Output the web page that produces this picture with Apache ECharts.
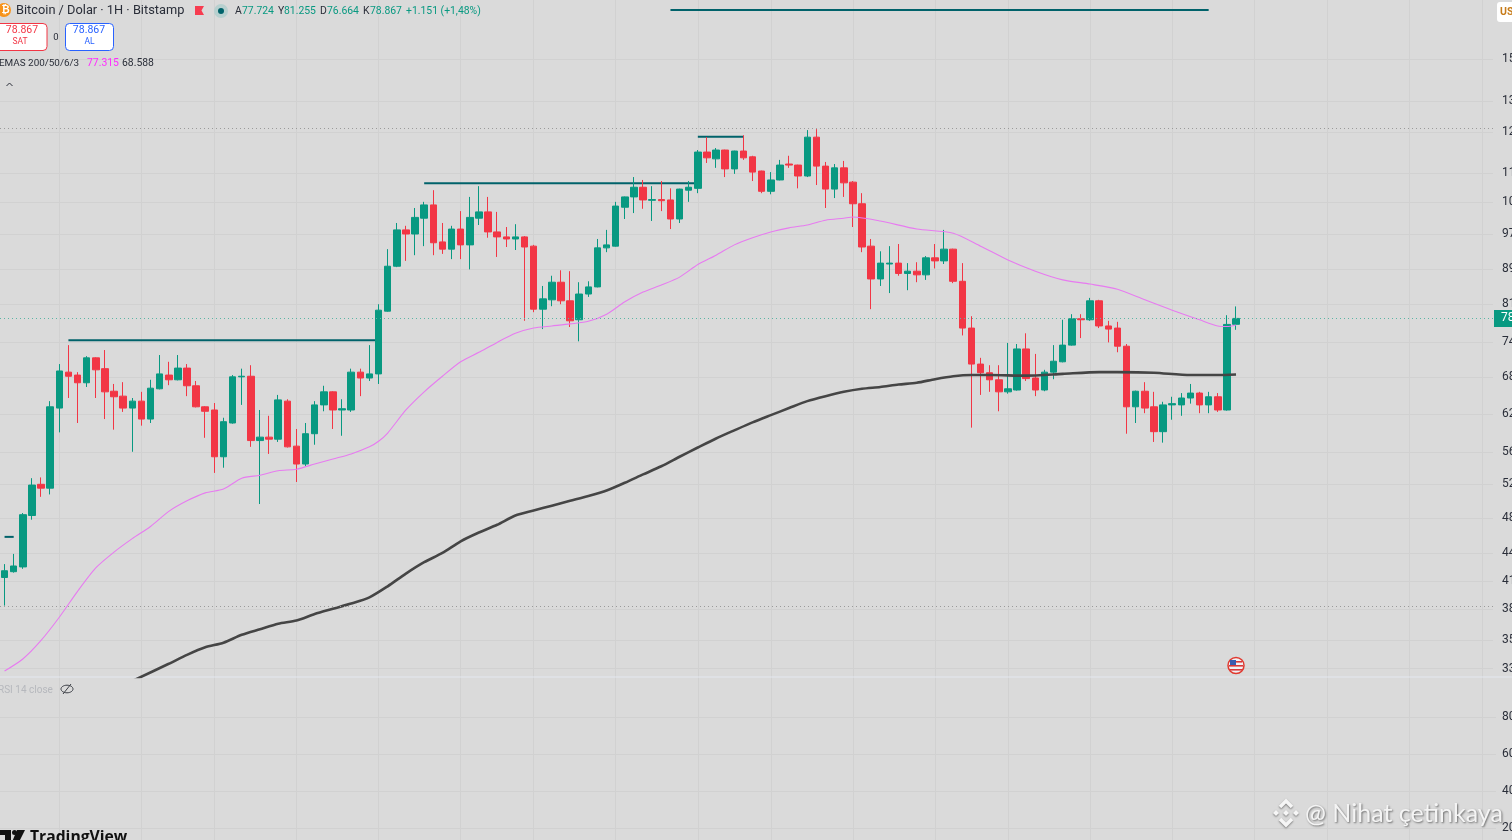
<!DOCTYPE html>
<html><head><meta charset="utf-8">
<style>html,body{margin:0;padding:0;background:#dadada;overflow:hidden}#c{width:1512px;height:840px}</style>
<script src="https://cdn.jsdelivr.net/npm/echarts@6/dist/echarts.min.js"></script>
</head><body><div id="c"></div>
<script>
const opens = [41.4,42.0,42.5,48.3,52.2,51.7,63.1,69.0,68.5,67.2,
71.5,69.6,65.8,65.0,63.1,64.2,61.4,66.2,68.5,67.7,
69.7,66.7,63.3,62.8,55.9,60.8,68.2,68.3,58.2,58.7,
58.4,64.2,57.4,54.9,59.2,63.6,65.7,62.8,62.8,69.0,
68.0,68.7,80.3,89.8,98.3,97.3,101.2,104.6,95.4,93.7,
98.5,94.7,101.2,102.8,97.8,96.6,96.1,96.6,94.4,80.7,
82.6,86.3,82.4,78.6,83.8,85.3,94.0,94.4,104.0,106.7,
109.3,105.8,106.0,105.9,101.0,108.5,109.0,119.3,117.3,119.9,
114.4,119.6,117.9,113.8,108.2,111.3,115.8,115.5,112.4,123.8,
115.2,108.8,114.7,110.7,104.9,94.4,87.0,90.3,90.5,88.2,
88.7,87.9,91.7,91.0,93.7,86.5,77.0,70.4,68.9,67.7,
65.7,66.0,73.1,68.0,66.0,69.0,70.8,73.8,78.8,78.6,
82.4,77.4,77.0,73.6,63.3,65.8,63.3,59.5,63.6,63.6,
64.7,65.5,63.6,64.9,62.8,77.724];
const closes = [42.1,42.6,48.4,52.1,51.7,63.3,69.2,68.3,67.2,71.5,
69.4,65.7,64.9,63.1,64.2,61.4,66.3,68.7,67.7,69.7,
66.7,63.3,62.6,55.9,61.0,68.2,68.3,58.2,58.7,58.4,
64.4,57.3,54.9,59.2,63.6,65.7,62.8,63.0,69.0,68.0,
68.7,80.5,89.8,98.3,97.3,101.4,104.6,95.2,93.7,98.5,
94.7,101.4,102.8,97.8,96.6,96.1,96.6,94.2,80.7,82.8,
86.3,82.4,78.4,83.8,85.3,94.0,94.7,104.3,106.7,109.3,
105.9,106.0,105.7,101.0,108.8,109.3,119.3,117.6,119.9,114.4,
119.6,117.6,113.5,108.2,111.3,115.5,115.5,112.4,123.8,115.2,
108.8,114.7,110.5,104.9,94.2,87.0,90.5,90.5,88.2,88.7,
87.9,91.7,91.0,93.7,86.5,77.0,70.4,68.9,67.7,65.7,
66.2,73.1,67.9,66.0,69.0,70.9,73.8,78.8,78.6,82.4,
77.4,76.8,73.6,63.3,65.8,63.1,59.5,63.6,63.8,64.7,
65.5,63.6,64.9,62.8,77.7,78.867];
const lows = [38.6,41.9,42.3,47.8,50.6,50.9,59.4,64.7,60.8,66.5,
64.7,61.4,59.8,62.5,56.6,60.4,60.8,66.1,66.8,67.6,
65.0,63.2,58.6,53.7,54.4,60.7,63.6,57.3,49.7,56.3,
58.0,57.2,52.5,54.6,57.6,62.6,59.9,58.9,62.5,65.0,
67.5,67.0,80.2,89.6,91.0,92.3,94.4,92.3,92.6,91.4,
91.4,89.1,99.5,96.4,91.9,94.2,93.5,78.4,80.1,76.8,
81.3,81.7,77.2,74.5,83.2,85.2,93.0,94.3,101.0,102.5,
103.6,100.5,103.0,98.5,100.0,105.4,107.7,116.1,114.7,112.1,
113.0,117.0,111.0,107.7,107.4,111.2,114.7,109.0,112.1,109.9,
103.8,106.4,106.7,99.0,93.0,80.7,85.5,84.0,87.7,84.6,
86.3,86.8,89.3,90.3,86.1,75.6,60.1,65.2,65.7,62.6,
65.4,65.9,67.5,65.0,65.8,67.8,70.7,73.7,75.1,78.4,
77.0,74.3,72.5,59.2,60.8,62.3,58.0,57.9,61.3,61.9,
63.8,62.3,62.3,62.5,62.7,76.664];
const highs = [42.8,43.9,48.6,53.0,53.1,64.2,70.4,73.8,69.0,71.8,
71.6,72.9,67.0,67.3,64.7,65.7,67.7,72.0,70.8,72.0,
70.4,67.5,63.4,63.9,61.6,68.5,69.6,70.2,62.8,61.9,
65.2,64.5,59.9,60.8,64.2,66.7,65.8,64.5,69.6,69.6,
73.8,81.7,93.7,100.0,99.3,103.8,105.4,108.5,100.0,99.3,
103.0,106.7,109.6,106.7,102.8,99.0,99.7,96.8,94.7,85.5,
87.7,88.9,88.7,86.3,86.5,96.1,98.3,105.4,106.8,112.1,
111.3,109.6,111.0,109.0,108.9,111.0,119.9,123.8,120.5,120.0,
119.7,124.4,118.2,113.9,113.5,117.0,118.2,115.6,126.0,126.3,
116.4,115.8,116.7,111.0,107.7,96.1,93.2,94.4,94.9,90.5,
90.7,92.1,94.9,98.3,93.8,90.5,79.3,71.5,70.2,70.2,
74.2,74.0,76.0,72.2,69.4,73.8,78.6,79.7,79.7,83.0,
82.6,78.4,78.2,74.0,65.9,67.3,65.7,64.1,64.9,65.5,
67.0,65.7,65.7,65.5,79.5,81.255];
const ema50 = [[0,32.8],[2,33.8],[4,35.4],[6,37.5],[8,40.0],[10,42.4],[12,44.1],[14,45.6],[16,47.0],[18,48.8],[20,50.1],[22,51.1],[24,51.6],[26,53.0],[28,53.4],[30,54.0],[32,54.2],[34,54.9],[36,55.6],[38,56.3],[40,57.3],[41,58.1],[42,59.3],[44,62.8],[46,65.7],[48,68.3],[50,70.8],[52,72.5],[54,74.3],[56,76.0],[58,77.0],[60,77.4],[62,77.8],[64,78.3],[66,79.7],[68,82.2],[70,84.2],[72,85.7],[74,87.4],[76,90.2],[78,92.3],[80,94.7],[82,96.4],[84,97.8],[86,98.8],[88,99.5],[90,100.7],[92,101.2],[93,101.5],[96,100.5],[100,98.5],[104,97.5],[107,94.4],[110,91.2],[113,88.7],[116,86.8],[119,85.9],[122,84.8],[125,82.6],[128,80.5],[131,78.6],[133,77.4],[134,77.3],[135,77.6]];
const ema200 = [[14,32.0],[18,33.4],[20,34.15],[22,34.8],[24,35.2],[26,35.9],[28,36.4],[30,36.9],[32,37.2],[34,37.8],[36,38.3],[38,38.8],[40,39.4],[42,40.5],[44,41.8],[46,43.0],[48,44.0],[50,45.3],[52,46.3],[54,47.2],[56,48.3],[58,48.9],[60,49.5],[62,50.1],[64,50.7],[66,51.4],[68,52.4],[70,53.5],[72,54.6],[74,55.9],[76,57.2],[78,58.5],[80,59.7],[82,60.9],[84,62.0],[86,63.1],[88,64.2],[90,65.0],[92,65.7],[94,66.2],[96,66.5],[98,66.9],[100,67.2],[102,67.8],[104,68.3],[106,68.5],[108,68.5],[112,68.4],[116,68.7],[120,69.0],[122,69.0],[126,68.9],[130,68.5],[133,68.5],[135,68.588]];
const levelLines = [
  [[73,169.9],[132,169.9]],
  [[7,74.7],[41,74.7]],
  [[46,110.4],[76,110.4]],
  [[76,123.9],[81,123.9]],
  [[0,45.8],[1,45.8]]
];
const dottedLevels = [126.6, 38.5];
const lastPrice = 78.867;
const priceTicks = [33,35.4,38.3,41,44,48,52.2,56.5,62.2,68.2,74.3,81.7,89.2,97.3,105.3,113.3,125.4,135.4,150.4];
const priceTickLabels = ['33','35','38','41','44','48','52','56','62','68','74','81','89','97','10','11','12','13','15'];
const rsiTicks = [20,40,60,80];
const gridCandles = [6,15,23,32,41,50,58,67,76,84,93,102,110,119,128,137,145,154,162];
const slotCount = 164;
const categories = Array.from({length: slotCount}, (_, i) => String(i));
const candleData = opens.map((o, i) => [o, closes[i], lows[i], highs[i]]);

const FONT = 'Roboto, sans-serif';
const UP = '#089981', DOWN = '#F23645', GRID = '#d1d1d1', LEVEL = '#00626a';
const txt = (x, y, text, size, fill, extra) => ({type:'text', x, y, z:20, silent:true,
  style:Object.assign({text, font:`${size}px ${FONT}`, fill, textVerticalAlign:'middle'}, extra||{})});
const shadow = {shadowColor:'#777',shadowBlur:2,shadowOffsetY:1};
const graphic = [
  {type:'rect', z:3, silent:true, shape:{x:1493,y:0,width:19,height:840}, style:{fill:'#dadada'}},
  {type:'rect', z:3, silent:true, shape:{x:0,y:676.5,width:1512,height:1}, style:{fill:'#e3e7ef'}},
  // header
  {type:'circle', z:20, shape:{cx:4,cy:10,r:7}, style:{fill:'#f7931a'}},
  txt(1.5,10.5,'₿',10,'#fff',{font:`bold 10px ${FONT}`}),
  txt(16,10.5,'Bitcoin / Dolar · 1H · Bitstamp',12.8,'#2a2e39'),
  {type:'polygon', z:20, shape:{points:[[195,6],[204,6],[201.5,10.5],[204,15],[195,15]]}, style:{fill:'#f73c50'}},
  {type:'circle', z:20, shape:{cx:221,cy:11,r:7}, style:{fill:'#b7d0cf'}},
  {type:'circle', z:20, shape:{cx:221,cy:11,r:3}, style:{fill:'#00626a'}},
  txt(235,11.5,'A',10.4,'#2a2e39'), txt(242,11.5,'77.724',10.4,UP),
  txt(278,11.5,'Y',10.4,'#2a2e39'), txt(284,11.5,'81.255',10.4,UP),
  txt(320,11.5,'D',10.4,'#2a2e39'), txt(327,11.5,'76.664',10.4,UP),
  txt(363,11.5,'K',10.4,'#2a2e39'), txt(370,11.5,'78.867',10.4,UP),
  txt(406,11.5,'+1.151 (+1,48%)',10.4,UP),
  {type:'rect', z:20, shape:{x:-4,y:23.5,width:51,height:27,r:4}, style:{fill:'#fff',stroke:'#f23645',lineWidth:1}},
  txt(22,30.5,'78.867',10.5,'#f23645',{textAlign:'center'}),
  txt(20,42,'SAT',8.5,'#f23645',{textAlign:'center'}),
  txt(56,37.5,'0',9.5,'#2a2e39',{textAlign:'center'}),
  {type:'rect', z:20, shape:{x:65.5,y:23.5,width:48,height:27,r:4}, style:{fill:'#fff',stroke:'#2962ff',lineWidth:1}},
  txt(89,30.5,'78.867',10.5,'#2962ff',{textAlign:'center'}),
  txt(89.5,42,'AL',8.5,'#2962ff',{textAlign:'center'}),
  txt(-1,63.5,'EMAS 200/50/6/3',9.9,'#2a2e39'),
  txt(87,63.5,'77.315',10.4,'#ff2bff'),
  txt(122,63.5,'68.588',10.4,'#2a2e39'),
  {type:'polyline', z:20, shape:{points:[[6.5,86],[9.5,83],[12.5,86]]}, style:{stroke:'#2a2e39',lineWidth:1,fill:'none'}},
  txt(-2,690.5,'RSI 14 close',10,'#b6b8bd'),
  {type:'ellipse', z:20, shape:{cx:67,cy:689,rx:6,ry:3.8}, style:{fill:'none',stroke:'#3c3f46',lineWidth:1}},
  {type:'line', z:20, shape:{x1:63,y1:694,x2:71,y2:684}, style:{stroke:'#3c3f46',lineWidth:1}},
  // currency pill
  {type:'rect', z:20, shape:{x:1497,y:2,width:22,height:20,r:3}, style:{fill:'#ffffff'}},
  txt(1500,12,'USD',10.5,'#c77c1a',{font:`bold 10.5px ${FONT}`}),
  // earnings badge
  {type:'circle', z:20, shape:{cx:1236,cy:665.5,r:8}, style:{fill:'#f0f0f4',stroke:'#e0392f',lineWidth:1.5}},
  {type:'rect', z:21, shape:{x:1230,y:661,width:12,height:1.6}, style:{fill:'#d9383a'}},
  {type:'rect', z:21, shape:{x:1229,y:665,width:14,height:1.6}, style:{fill:'#d9383a'}},
  {type:'rect', z:21, shape:{x:1230,y:669,width:12,height:1.6}, style:{fill:'#d9383a'}},
  {type:'rect', z:21, shape:{x:1230,y:660,width:6,height:5}, style:{fill:'#3a5bb0'}},
  // watermark
  {type:'polygon', z:20, shape:{points:[[1286,810],[1289,813],[1286,816],[1283,813]]}, style:Object.assign({fill:'#f6f6f6'},shadow)},
  {type:'polygon', z:20, shape:{points:[[1276,810],[1279,813],[1276,816],[1273,813]]}, style:Object.assign({fill:'#f6f6f6'},shadow)},
  {type:'polygon', z:20, shape:{points:[[1296,810],[1299,813],[1296,816],[1293,813]]}, style:Object.assign({fill:'#f6f6f6'},shadow)},
  {type:'polyline', z:20, shape:{points:[[1280,807],[1286,801],[1292,807]]}, style:Object.assign({stroke:'#f6f6f6',lineWidth:3.5,fill:'none'},shadow)},
  {type:'polyline', z:20, shape:{points:[[1280,819],[1286,825],[1292,819]]}, style:Object.assign({stroke:'#f6f6f6',lineWidth:3.5,fill:'none'},shadow)},
  txt(1305,814,'@ Nihat çetinkaya',25,'#f4f4f4',{font:'25px Lato, sans-serif',textShadowColor:'#6f6f6f',textShadowBlur:2,textShadowOffsetY:1,textShadowOffsetX:1}),
  // TradingView logo
  {type:'polygon', z:20, shape:{points:[[0,830],[11,830],[11,842],[5,842],[5,835],[0,835]]}, style:{fill:'#111'}},
  {type:'circle', z:20, shape:{cx:14.5,cy:832.5,r:2.5}, style:{fill:'#111'}},
  {type:'polygon', z:20, shape:{points:[[17,830],[25,830],[19,842],[12,842]]}, style:{fill:'#111'}},
  txt(30,838,'TradingView',15.7,'#111',{font:'bold 15.7px "Open Sans", sans-serif'})
];

const chart = echarts.init(document.getElementById('c'), null, {renderer:'canvas'});
const nearestLabel = v => {
  let best = 0;
  priceTicks.forEach((t, i) => { if (Math.abs(t - v) < Math.abs(priceTicks[best] - v)) best = i; });
  return priceTickLabels[best];
};
const xAxisBase = gridIndex => ({
  type:'category', gridIndex, data:categories, boundaryGap:true,
  axisLine:{show:false}, axisTick:{show:false}, axisLabel:{show:false},
  splitLine:{show:true, alignWithLabel:true, interval:(i)=>gridCandles.includes(i), lineStyle:{color:GRID,width:1}}
});
chart.setOption({
  animation:false,
  backgroundColor:'#dadada',
  graphic,
  grid:[
    {left:0, right:16, top:0, height:677, outerBoundsMode:'none'},
    {left:0, right:16, top:677, height:163, outerBoundsMode:'none'}
  ],
  xAxis:[xAxisBase(0), xAxisBase(1)],
  yAxis:[
    {type:'log', gridIndex:0, logBase:10, min:32.32, max:174.15, position:'right', z:0,
     axisLine:{show:false}, axisLabel:{show:false},
     axisTick:{show:false, customValues:priceTicks},
     splitLine:{show:true, lineStyle:{color:GRID,width:1}}, minorSplitLine:{show:false}},
    {type:'log', gridIndex:0, logBase:10, min:32.32, max:174.15, position:'right', z:5,
     axisLine:{show:false}, axisTick:{show:false}, splitLine:{show:false},
     axisLabel:{show:true, customValues:priceTicks, formatter:nearestLabel, margin:6, color:'#2a2e39',
       fontFamily:FONT, fontSize:12, align:'left', hideOverlap:false}},
    {type:'value', gridIndex:1, min:13.5, max:101.6, position:'right', z:5,
     axisLine:{show:false},
     axisTick:{show:false, customValues:rsiTicks},
     splitLine:{show:true, lineStyle:{color:GRID,width:1}},
     axisLabel:{show:true, customValues:rsiTicks, margin:6, color:'#2a2e39', fontFamily:FONT, fontSize:12, align:'left'}}
  ],
  series:[
    {type:'line', name:'EMA 200', xAxisIndex:0, yAxisIndex:0, data:ema200, showSymbol:false, z:3, smooth:0.25,
     lineStyle:{color:'#454545',width:2.6}, silent:true},
    {type:'line', name:'EMA 50', xAxisIndex:0, yAxisIndex:0, data:ema50, showSymbol:false, z:3, smooth:0.25,
     lineStyle:{color:'#e77bf0',width:1.1}, silent:true},
    ...levelLines.map(d => ({type:'line', xAxisIndex:0, yAxisIndex:0, data:d, showSymbol:false, z:2,
      lineStyle:{color:LEVEL,width:2}, silent:true})),
    {type:'candlestick', name:'BTCUSD', xAxisIndex:0, yAxisIndex:0, data:candleData, barWidth:7, z:2,
     itemStyle:{color:UP,color0:DOWN,borderColor:UP,borderColor0:DOWN,borderWidth:1},
     markLine:{silent:true, symbol:'none', animation:false, label:{show:false},
       data:[
         ...dottedLevels.map(v => ({yAxis:v, lineStyle:{color:'#9a9a9a',type:[1,3],width:1}})),
         {yAxis:lastPrice, lineStyle:{color:'#5bb5a4',type:[1,3],width:1}}
       ]}},
    {type:'line', xAxisIndex:0, yAxisIndex:0, data:[], z:6,
     markLine:{silent:true, symbol:'none', animation:false, lineStyle:{width:0},
       label:{show:true, position:'end', distance:-2, formatter:'78', color:'#fff', fontFamily:FONT, fontSize:12,
         backgroundColor:UP, padding:[3,20,2,7], align:'left'},
       data:[{yAxis:lastPrice}]}}
  ]
});
</script></body></html>
